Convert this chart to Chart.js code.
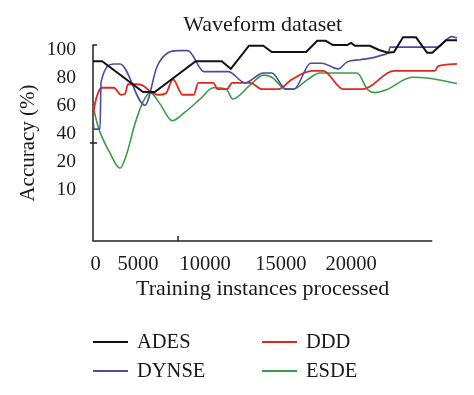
<!DOCTYPE html>
<html>
<head>
<meta charset="utf-8">
<script src="https://cdn.jsdelivr.net/npm/chart.js@4.4.1/dist/chart.umd.min.js"></script>
<style>
  body { margin: 0; background: #fff; }
  #wrap { position: relative; width: 474px; height: 395px; }
  #legend {
    position: absolute; left: 93px; top: 327px;
    display: grid; grid-template-columns: 169px 169px; grid-template-rows: 29px 29px;
    grid-auto-flow: column;
    font-family: 'Liberation Serif', 'DejaVu Serif', serif; font-size: 20.5px; color: #1a1a1a;
  }
  .lg-item { display: flex; align-items: center; }
  .lg-line { width: 35px; height: 2px; margin-right: 9px; }
</style>
</head>
<body>
<div id="wrap">
  <canvas id="chart"></canvas>
  <div id="legend"></div>
</div>
<script>
// Waveform dataset: accuracy vs training instances processed
const adesX  = [0, 700, 3850, 4750, 7900, 9900, 10600, 12000, 13100, 13750, 16400, 17250, 17900, 18450, 19550, 19850, 20150, 21300, 22000, 22700, 23150, 23850, 24850, 25700, 26100, 27150, 28000];
const adesY  = [92, 92, 70, 70, 92, 92, 86.5, 103, 103, 98.5, 98.5, 106.5, 106.5, 103.5, 103.5, 105, 103, 103, 100, 98, 98.5, 109, 109, 98, 98, 107, 107];

const dynseX = [0, 80, 540, 620, 1600, 2080, 4000, 4920, 5770, 6540, 7300, 8540, 10400, 11700, 13100, 13750, 14850, 15450, 16750, 17600, 18850, 19550, 20550, 21550, 22300, 22750, 22850, 26450, 27600, 28000];
const dynseY = [50, 43.5, 43.5, 77, 90, 90, 60.5, 88, 98, 99.5, 99.5, 84.5, 84.5, 76.5, 83.5, 83.5, 72, 72, 90.5, 90.5, 86.5, 91.5, 93, 94.5, 96.5, 98.5, 102, 102, 109.5, 108.5];

const dddX   = [0, 150, 400, 700, 1600, 2150, 2450, 2700, 3300, 3850, 4400, 5000, 5600, 6150, 6900, 7750, 8100, 9250, 9600, 10300, 10700, 12100, 13000, 14250, 15300, 16850, 17700, 19250, 20750, 23150, 26300, 26550, 28000];
const dddY   = [51.5, 61.5, 69.5, 73, 73, 68, 68.5, 75.5, 75.5, 74.5, 70.5, 68, 69, 79, 68, 68, 76.5, 76.5, 72, 72, 76.5, 76.5, 72, 72, 79, 85, 85, 72, 72, 85, 85, 88.5, 90];

const esdeX  = [0, 400, 1300, 2080, 2550, 3250, 3850, 4400, 5150, 6100, 7000, 8250, 9250, 10250, 10750, 12100, 13100, 13750, 14850, 15400, 16450, 17450, 20300, 21150, 21700, 22550, 24550, 25700, 28000];
const esdeY  = [60, 45, 26.5, 15.5, 24.5, 48, 63, 69.5, 61.5, 49.5, 55, 65, 73, 72, 65, 75, 82, 80.5, 72, 72, 78.5, 83.5, 83.5, 71.5, 69.5, 71.5, 80.5, 80, 76];

// tick labels as printed in the figure, and where they sit on the axes
const xTickLabels = ['0', '5000', '10000', '15000', '20000'];
const xTickAt     = [200, 3460, 8620, 14460, 19850];
const yTickLabels = ['100', '80', '60', '40', '20', '10'];
const yTickAt     = [100, 80, 60, 40, 20, 0];

// extent of the drawn axis lines and the stray tick marks
const xAxisEnd = 26100, xTickMark = 6540;
const yAxisTop = 103.5, yTickMark = 33.5;

const titleText  = 'Waveform dataset';
const xTitleText = 'Training instances processed';
const yTitleText = 'Accuracy (%)';

const serif = "'Liberation Serif', 'DejaVu Serif', serif";

function pts(xs, ys) {
  return xs.map((x, i) => ({ x, y: ys[i] }));
}

// axis lines, stray ticks and titles, centred on the drawn axes
const axisLines = {
  id: 'axisLines',
  beforeDatasetsDraw(chart) {
    const { ctx, scales: { x, y } } = chart;
    const left = x.getPixelForValue(0);
    const bottom = y.bottom;
    ctx.save();
    ctx.strokeStyle = '#222';
    ctx.lineWidth = 1.5;
    ctx.beginPath();
    ctx.moveTo(left + 4, y.getPixelForValue(yAxisTop));
    ctx.lineTo(left, y.getPixelForValue(yAxisTop));
    ctx.lineTo(left, bottom);
    ctx.lineTo(x.getPixelForValue(xAxisEnd), bottom);
    ctx.moveTo(left - 3, y.getPixelForValue(yTickMark));
    ctx.lineTo(left + 4, y.getPixelForValue(yTickMark));
    ctx.moveTo(x.getPixelForValue(xTickMark), bottom);
    ctx.lineTo(x.getPixelForValue(xTickMark), bottom - 5);
    ctx.stroke();
    ctx.restore();
  },
  afterDraw(chart) {
    const { ctx, scales: { x, y } } = chart;
    const midX = (x.getPixelForValue(0) + x.getPixelForValue(xAxisEnd)) / 2;
    const midY = (y.getPixelForValue(yAxisTop) + y.bottom) / 2;
    ctx.save();
    ctx.fillStyle = '#1a1a1a';
    ctx.textAlign = 'center';
    ctx.textBaseline = 'middle';
    ctx.font = `22px ${serif}`;
    ctx.fillText(titleText, midX, chart.chartArea.top - 8);
    ctx.fillText(xTitleText, midX, y.bottom + 48);
    ctx.font = `21px ${serif}`;
    ctx.translate(28.5, midY);
    ctx.rotate(-Math.PI / 2);
    ctx.fillText(yTitleText, 0, 0);
    ctx.restore();
  }
};

const chart = new Chart(document.getElementById('chart'), {
  type: 'line',
  data: {
    datasets: [
      { label: 'ADES',  data: pts(adesX, adesY),   borderColor: '#111111', borderWidth: 2 },
      { label: 'DYNSE', data: pts(dynseX, dynseY), borderColor: '#4b4ba6', borderWidth: 1.6, cubicInterpolationMode: 'monotone' },
      { label: 'DDD',   data: pts(dddX, dddY),     borderColor: '#de2a1e', borderWidth: 1.8, cubicInterpolationMode: 'monotone' },
      { label: 'ESDE',  data: pts(esdeX, esdeY),   borderColor: '#3d9a48', borderWidth: 1.6, cubicInterpolationMode: 'monotone' },
    ],
  },
  options: {
    responsive: true,
    maintainAspectRatio: false,
    animation: false,
    elements: { point: { radius: 0 }, line: { tension: 0 } },
    layout: { padding: { left: 0, right: 17, top: 33, bottom: 94 } },
    plugins: {
      legend: { display: false },
      tooltip: { enabled: false },
      title: { display: false },
    },
    scales: {
      x: {
        type: 'linear',
        min: 0,
        max: 28000,
        grid: { display: false, drawTicks: false },
        border: { display: false },
        afterFit(s) { s.height = 60; },
        afterBuildTicks(s) { s.ticks = xTickAt.map(v => ({ value: v })); },
        ticks: {
          autoSkip: false,
          maxRotation: 0,
          padding: 11,
          color: '#1a1a1a',
          font: { family: serif, size: 20.5 },
          callback: (v, i) => xTickLabels[i],
        },
      },
      y: {
        type: 'linear',
        min: -36.4,
        max: 112.1,
        grid: { display: false, drawTicks: false },
        border: { display: false },
        afterFit(s) { s.width = 93; },
        afterBuildTicks(s) { s.ticks = yTickAt.map(v => ({ value: v })); },
        ticks: {
          autoSkip: false,
          padding: 17,
          color: '#1a1a1a',
          font: { family: serif, size: 19.5 },
          callback: (v, i) => yTickLabels[i],
        },
      },
    },
  },
  plugins: [axisLines],
});

// legend, two columns: ADES / DYNSE then DDD / ESDE
const legendEl = document.getElementById('legend');
chart.data.datasets.forEach(ds => {
  const item = document.createElement('div');
  item.className = 'lg-item';
  item.innerHTML = `<span class="lg-line" style="background:${ds.borderColor}"></span><span>${ds.label}</span>`;
  legendEl.appendChild(item);
});
</script>
</body>
</html>
